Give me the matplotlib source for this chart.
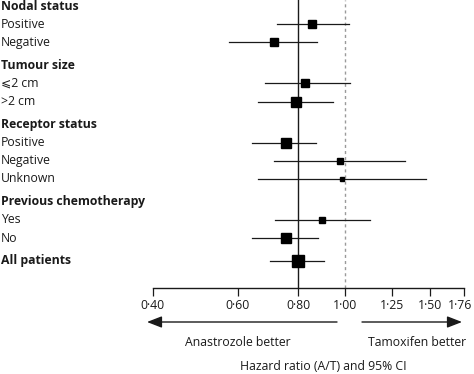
import matplotlib
matplotlib.use("Agg")
import matplotlib.pyplot as plt
import matplotlib.transforms as mtransforms
import numpy as np

plt.rcParams['font.family'] = ['Open Sans', 'DejaVu Sans']

# Subgroups, their rows, hazard ratios and 95% CI
groups = ["Nodal status", "Tumour size", "Receptor status", "Previous chemotherapy"]
labels = [["Positive", "Negative"],
          ["\u2a7d2 cm", ">2 cm"],
          ["Positive", "Negative", "Unknown"],
          ["Yes", "No"]]
hr = [[0.856, 0.712], [0.828, 0.793], [0.755, 0.976, 0.986], [0.898, 0.754]]
ci_lo = [[0.724, 0.576], [0.684, 0.661], [0.643, 0.712, 0.661], [0.717, 0.641]]
ci_hi = [[1.021, 0.874], [1.024, 0.946], [0.870, 1.331, 1.469], [1.128, 0.878]]
# box sizes (points) reflect weight of each subgroup
box = [[6.0, 5.2], [5.6, 7.2], [7.4, 4.4, 2.6], [4.6, 6.6]]

overall_label = "All patients"
overall = (0.80, 0.70, 0.906)
overall_box = 8.6

ticks = [0.40, 0.60, 0.80, 1.00, 1.25, 1.50, 1.76]
tick_labels = ["0\u00b740", "0\u00b760", "0\u00b780", "1\u00b700", "1\u00b725", "1\u00b750", "1\u00b776"]

W, H = 474, 374
fig = plt.figure(figsize=(W / 100, H / 100), dpi=100)
ax = fig.add_axes([0, 1 - 288 / H, 1, 288 / H])
ax.set_xscale('log')
ax.set_xlim(np.exp(-345 / 210), np.exp(129 / 210))
ax.set_ylim(282 / 18.2, -6 / 18.2)

fs = 8.8
ink = '#1a1a1a'
ytr = ax.get_yaxis_transform()
y = 0.0
for gi, g in enumerate(groups):
    if gi > 0:
        y += 1.25
    ax.text(0.002, y, g, transform=ytr, fontsize=fs, fontweight='bold',
            va='center', ha='left', color=ink)
    for li, lab in enumerate(labels[gi]):
        y += 1
        ax.text(0.002, y, lab, transform=ytr, fontsize=fs,
                va='center', ha='left', color=ink)
        ax.plot([ci_lo[gi][li], ci_hi[gi][li]], [y, y], color=ink, lw=0.9)
        ax.plot(hr[gi][li], y, marker='s', ms=box[gi][li], color='black')
y += 1.25
ax.text(0.002, y, overall_label, transform=ytr, fontsize=fs,
        fontweight='bold', va='center', ha='left', color=ink)
ax.plot([overall[1], overall[2]], [y, y], color=ink, lw=0.9)
ax.plot(overall[0], y, marker='s', ms=overall_box, color='black')

# reference lines
ax.axvline(overall[0], color=ink, lw=1.0, zorder=0)
ax.axvline(1.0, color='#9a9a9a', lw=1.0, ls=(0, (2.2, 2.2)), zorder=0)

for s in ['top', 'left', 'right']:
    ax.spines[s].set_visible(False)
ax.spines['bottom'].set_bounds(ticks[0], ticks[-1])
ax.spines['bottom'].set_linewidth(1.0)
ax.spines['bottom'].set_color(ink)
ax.set_xticks(ticks)
ax.set_xticklabels(tick_labels)
ax.xaxis.set_minor_locator(matplotlib.ticker.NullLocator())
ax.tick_params(axis='x', length=5.8, width=0.9, color=ink, labelsize=fs,
               labelcolor=ink, pad=2)
ax.set_yticks([])
ax.patch.set_alpha(0)

# last tick label sits at the right edge: nudge it inwards a little
last = ax.get_xticklabels()[-1]
last.set_transform(last.get_transform() +
                   mtransforms.ScaledTranslation(-4 / 100, 0, fig.dpi_scale_trans))

# direction arrows and captions
ay = 1 - 322 / H
arrow = dict(arrowstyle='-|>,head_length=0.9,head_width=0.35', color=ink, lw=1.0,
             shrinkA=0, shrinkB=0)
ax.annotate('', xy=(147 / W, ay), xytext=(337 / W, ay), xycoords='figure fraction',
            textcoords='figure fraction', arrowprops=arrow, annotation_clip=False)
ax.annotate('', xy=(462 / W, ay), xytext=(362 / W, ay), xycoords='figure fraction',
            textcoords='figure fraction', arrowprops=arrow, annotation_clip=False)
fig.text(238 / W, 1 - 342 / H, "Anastrozole better", ha='center', va='center',
         fontsize=fs, color=ink)
fig.text(417 / W, 1 - 342 / H, "Tamoxifen better", ha='center', va='center',
         fontsize=fs, color=ink)
fig.text(323 / W, 1 - 367 / H, "Hazard ratio (A/T) and 95% CI", ha='center',
         va='center', fontsize=fs, color=ink)

fig.savefig("out.png", dpi=100)
